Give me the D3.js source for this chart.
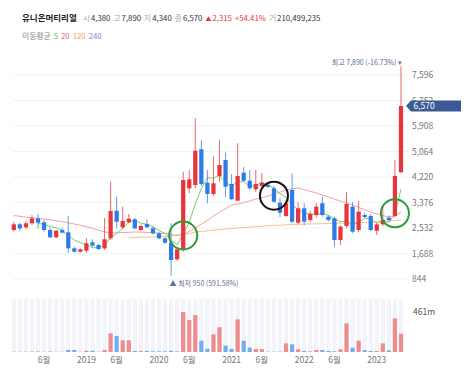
<!DOCTYPE html>
<html>
<head>
<meta charset="utf-8">
<script src="https://cdn.jsdelivr.net/npm/d3@7"></script>
<style>
  body { margin: 0; background: #fff; font-family: "Noto Sans CJK KR", "Noto Sans", sans-serif; }
  .axis text { fill: #777; font-size: 8.5px; font-family: "Noto Sans CJK KR", "Noto Sans", sans-serif; }
  .axis path, .axis line { display: none; }
</style>
</head>
<body>
<svg id="chart" width="474" height="377"></svg>
<script>
// monthly candles, Jan 2018 .. May 2023
const months = d3.timeMonth.range(new Date(2018, 0, 1), new Date(2023, 5, 1));

const opens = [2466, 2655, 2555, 2688, 2853, 2721, 2466, 2224, 2466, 2390, 1860, 1748, 1781, 2059, 1970, 1860,
  2191, 3105, 2555, 2721, 2820, 2466, 2665, 2522, 2357, 2191, 2046, 1496, 1804, 3846, 3955, 5137, 4032, 3658,
  4253, 4783, 3989, 3436, 4363, 4098, 3813, 3922, 3955, 3846, 3370, 2929, 3790, 2708, 3184, 2796, 2960, 3350,
  2906, 2853, 2135, 2598, 3237, 2466, 2963, 2929, 2440, 2655, 2873, 2930, 4380];
const highs = [2741, 2708, 2764, 2962, 2996, 2797, 2542, 2466, 2542, 2929, 1913, 1854, 2191, 2158, 2003, 2863,
  4065, 3568, 3237, 2996, 2880, 2650, 2820, 2580, 2400, 2230, 2688, 1903, 4396, 4452, 6163, 5445, 4452, 4915,
  5445, 5025, 4320, 5336, 4551, 4452, 4452, 4353, 4030, 3922, 3525, 3459, 4343, 3393, 3350, 3100, 3350, 3560,
  2960, 2906, 2630, 3724, 3393, 3426, 3040, 3000, 2700, 3300, 2950, 4790, 7890];
const lows = [2410, 2433, 2499, 2631, 2522, 2410, 2191, 2191, 2357, 1715, 1715, 1721, 1715, 1893, 1804, 1804,
  2135, 2522, 2499, 2698, 2480, 2440, 2530, 2320, 2150, 2000, 950, 1440, 1748, 3681, 3846, 3922, 3350, 3591,
  4065, 3548, 3459, 3436, 4055, 3790, 3724, 3856, 3850, 3370, 2896, 2896, 2688, 2665, 2620, 2741, 2880, 2900,
  2741, 1913, 1970, 2530, 2367, 2400, 2860, 2420, 2300, 2600, 2760, 2880, 4340];
const closes = [2655, 2522, 2688, 2853, 2708, 2466, 2224, 2443, 2377, 1860, 1748, 1827, 2026, 1946, 1837, 2158,
  3095, 2741, 2764, 2840, 2522, 2598, 2555, 2357, 2191, 2046, 1473, 1827, 4121, 4144, 5091, 3989, 3658, 4012,
  4617, 3899, 3482, 4253, 4098, 3846, 3989, 4032, 3889, 3403, 3039, 3350, 2741, 3184, 2741, 2996, 3237, 2962,
  2797, 2135, 2575, 3326, 2410, 3072, 2896, 2466, 2650, 2797, 2797, 4255, 6570];
// volume in millions of shares
const volumes = [3, 3, 3, 6, 6, 3, 6, 3, 3, 23, 23, 3, 15, 15, 3, 23,
  215, 184, 135, 135, 12, 12, 12, 8, 8, 8, 15, 8, 461, 369, 426, 130, 38, 204,
  285, 73, 35, 377, 130, 50, 35, 35, 4, 4, 4, 100, 88, 31, 12, 8, 23, 23,
  12, 8, 31, 330, 50, 130, 23, 12, 12, 100, 19, 388, 210.499235];

// moving averages (20 and 120 need history before 2018)
const ma20 = [2946, 2920, 2890, 2870, 2850, 2830, 2800, 2770, 2740, 2700, 2665, 2620, 2570, 2520, 2460, 2400,
  2380, 2370, 2380, 2390, 2400, 2395, 2385, 2375, 2360, 2350, 2310, 2300, 2320, 2420, 2530, 2660, 2790, 2930,
  3060, 3170, 3290, 3330, 3370, 3430, 3490, 3540, 3590, 3650, 3720, 3780, 3830, 3860, 3800, 3750, 3690, 3620,
  3560, 3490, 3420, 3360, 3290, 3210, 3140, 3060, 3000, 2940, 2900, 2930, 3060];
const ma120 = [null, null, null, null, null, null, null, null, null, null, null, null, null, null, null, null,
  null, null, null, 2210, 2215, 2225, 2230, 2240, 2245, 2255, 2265, 2280, 2310, 2350, 2400, 2420, 2440, 2460,
  2480, 2500, 2515, 2530, 2545, 2560, 2575, 2590, 2605, 2615, 2625, 2635, 2645, 2655, 2660, 2665, 2670, 2675,
  2680, 2685, 2690, 2695, 2700, 2705, 2710, 2720, 2735, 2750, 2765, 2780, 2800];

const priceTicks = [844, 1688, 2532, 3376, 4220, 5064, 5908, 6752, 7596];
const monthTicks = [5, 12, 17, 24, 29, 36, 41, 48, 53, 60];
const volumeMax = 461;

// hand-drawn circle annotations: month index and price
const marks = [
  { i: 28, price: 2284, color: "#2b9b3c" },
  { i: 43, price: 3601, color: "#111" },
  { i: 63, price: 3019, color: "#2b9b3c" }
];

const RED = "#e8343b", BLUE = "#2d7be6";
const n = months.length;
const last = n - 1;

const svg = d3.select("#chart");

const x = d3.scaleBand().domain(d3.range(n)).range([10.8, 404]).paddingInner(0.3).paddingOuter(0.15);
const cx = i => x(i) + x.bandwidth() / 2;
const y = d3.scaleLinear().domain([0, 7596]).range([304.5, 75]);
const yv = d3.scaleLinear().domain([0, volumeMax]).range([352, 312]);

// ma5 from the closes
const ma5 = closes.map((c, i) => i < 4 ? null : d3.mean(closes.slice(i - 4, i + 1)));

// header
const fmt = d3.format(",");
const prev = closes[last - 1];
const chg = closes[last] - prev;
const head = svg.append("text").attr("x", 22).attr("y", 20.5).attr("font-size", 7.8);
head.append("tspan").attr("font-weight", "bold").attr("font-size", 8.5).attr("fill", "#222").text("유니온머티리얼");
const items = [["시", opens[last]], ["고", highs[last]], ["저", lows[last]], ["종", closes[last]]];
items.forEach(([k, v], j) => {
  head.append("tspan").attr("dx", j === 0 ? 6 : 3).attr("fill", "#aaa").text(k);
  head.append("tspan").attr("dx", 1).attr("fill", "#333").text(fmt(v));
});
head.append("tspan").attr("dx", 3).attr("fill", RED).attr("font-size", 6).text("▲");
head.append("tspan").attr("dx", 1).attr("fill", RED).text(fmt(chg));
head.append("tspan").attr("dx", 3).attr("fill", RED).text("+" + (chg / prev * 100).toFixed(2) + "%");
head.append("tspan").attr("dx", 3).attr("fill", "#aaa").text("거");
head.append("tspan").attr("dx", 1).attr("fill", "#333").text(fmt(Math.round(volumes[last] * 1e6)));

const legend = svg.append("text").attr("x", 22).attr("y", 38.5).attr("font-size", 7.8);
legend.append("tspan").attr("fill", "#888").text("이동평균");
[["5", "#5cb85c"], ["20", "#f0646c"], ["120", "#f5a05a"], ["240", "#9a7ce0"]]
  .forEach(([t, c]) => legend.append("tspan").attr("dx", 3).attr("fill", c).text(t));

// grid
svg.append("g").selectAll("line").data(priceTicks).join("line")
  .attr("x1", 13).attr("x2", 408)
  .attr("y1", d => y(d)).attr("y2", d => y(d))
  .attr("stroke", "#f2f2f4");

// volume panel stripes
svg.append("g").selectAll("rect").data(d3.range(n)).join("rect")
  .attr("x", i => x(i)).attr("width", x.bandwidth())
  .attr("y", 299).attr("height", 53)
  .attr("fill", "#f2f4f9");

svg.append("g").selectAll("rect").data(d3.range(n)).join("rect")
  .attr("x", i => x(i)).attr("width", x.bandwidth())
  .attr("y", i => yv(volumes[i])).attr("height", i => yv(0) - yv(volumes[i]))
  .attr("fill", i => closes[i] >= opens[i] ? "#ee8c8e" : "#74aef0");

svg.append("text").attr("x", 413).attr("y", 315).attr("font-size", 8.5).attr("fill", "#555")
  .text(volumeMax + "m");

// moving average lines
const line = d3.line().defined(d => d != null).x((d, i) => cx(i)).y(d => y(d));
[[ma120, "#f7c08c"], [ma20, "#f3a0a0"], [ma5, "#7ccc6e"]].forEach(([s, c]) => {
  svg.append("path").datum(s).attr("d", line).attr("fill", "none")
    .attr("stroke", c).attr("stroke-width", 1);
});

// candles
const candle = svg.append("g").selectAll("g").data(d3.range(n)).join("g");
candle.append("line")
  .attr("x1", cx).attr("x2", cx)
  .attr("y1", i => y(highs[i])).attr("y2", i => y(lows[i]))
  .attr("stroke", i => closes[i] >= opens[i] ? RED : BLUE)
  .attr("stroke-opacity", 0.75);
candle.append("rect")
  .attr("x", i => x(i)).attr("width", x.bandwidth())
  .attr("y", i => y(Math.max(opens[i], closes[i])))
  .attr("height", i => Math.max(1, Math.abs(y(opens[i]) - y(closes[i]))))
  .attr("fill", i => closes[i] >= opens[i] ? RED : BLUE);

// annotation circles
svg.append("g").selectAll("circle").data(marks).join("circle")
  .attr("cx", d => cx(d.i)).attr("cy", d => y(d.price)).attr("r", 14)
  .attr("fill", "none").attr("stroke", d => d.color).attr("stroke-width", 2);

// high / low labels
const hiIdx = d3.maxIndex(highs), loIdx = d3.minIndex(lows);
const cur = closes[last];
svg.append("text").attr("x", cx(hiIdx) + 1).attr("y", y(highs[hiIdx]) - 1.5)
  .attr("text-anchor", "end").attr("font-size", 7).attr("fill", "#5a6d9c")
  .text(`최고 ${fmt(highs[hiIdx])} (${((cur / highs[hiIdx] - 1) * 100).toFixed(2)}%) ▾`);
svg.append("text").attr("x", cx(loIdx) - 1.5).attr("y", y(lows[loIdx]) + 10.5)
  .attr("font-size", 7).attr("fill", "#5a6d9c")
  .text(`▲ 최저 ${fmt(lows[loIdx])} (${((cur / lows[loIdx] - 1) * 100).toFixed(2)}%)`);

// axes
svg.append("g").attr("class", "axis").attr("transform", "translate(408,0)")
  .call(d3.axisRight(y).tickValues(priceTicks).tickFormat(fmt).tickSize(0).tickPadding(4));

svg.append("g").attr("class", "axis").attr("transform", "translate(0,352)")
  .call(d3.axisBottom(x).tickValues(monthTicks).tickSize(0).tickPadding(5)
    .tickFormat(i => months[i].getMonth() === 0 ? months[i].getFullYear() : (months[i].getMonth() + 1) + "월"));

// current price tag (covers the 6,752 tick as in the original)
const yc = y(cur);
svg.append("path")
  .attr("d", `M406,${yc} L411,${yc - 5.5} L461,${yc - 5.5} L461,${yc + 5.5} L411,${yc + 5.5} Z`)
  .attr("fill", "#3a5a96");
svg.append("text").attr("x", 413.5).attr("y", yc + 3).attr("font-size", 8.5)
  .attr("fill", "#fff").text(fmt(cur));
</script>
</body>
</html>
